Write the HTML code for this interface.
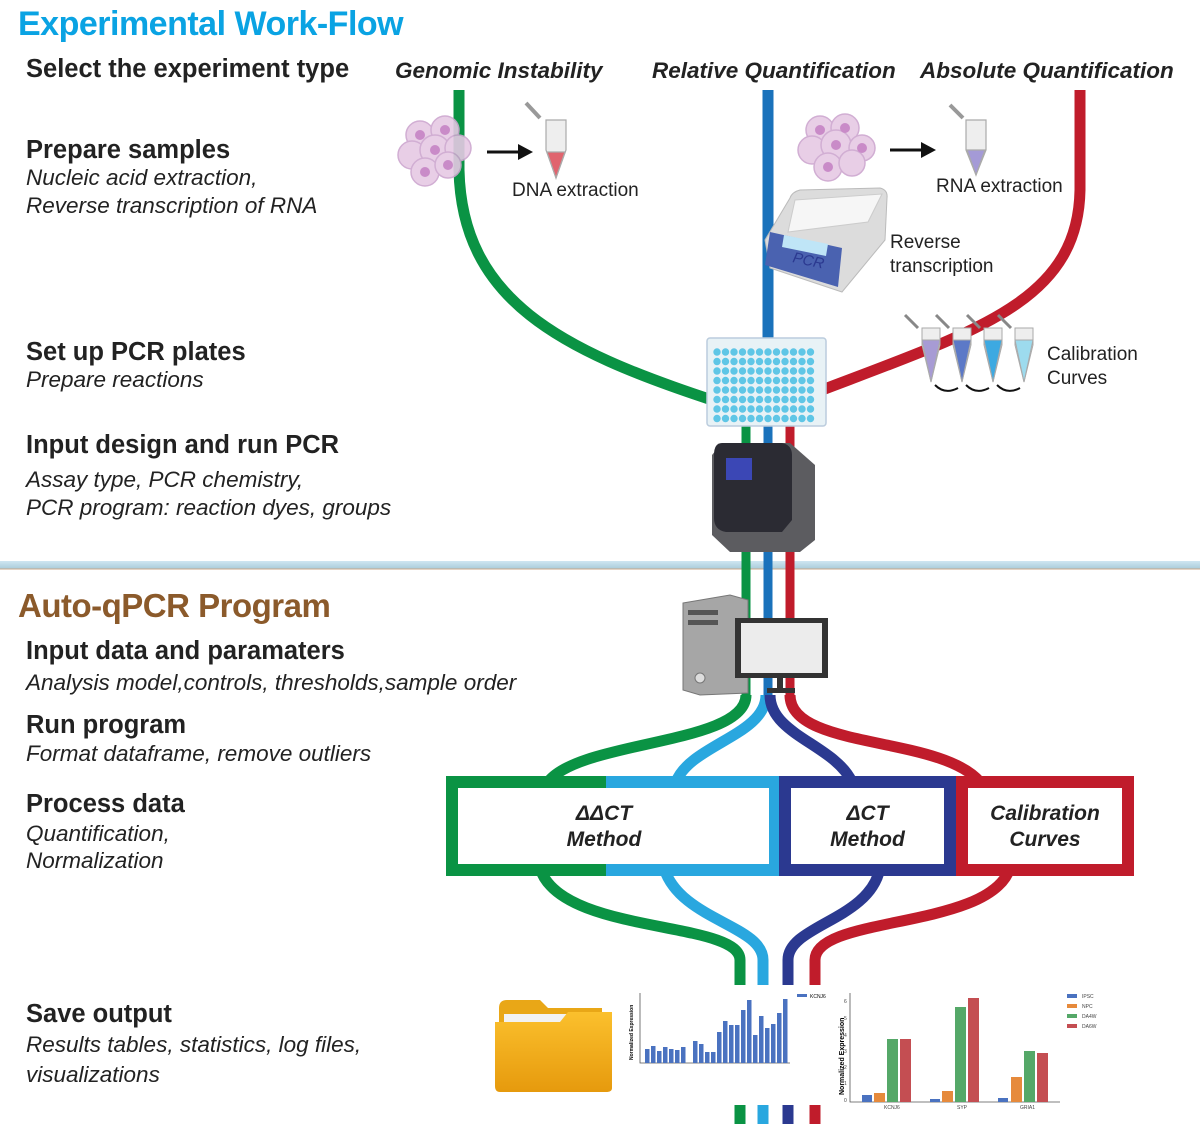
<!DOCTYPE html>
<html><head><meta charset="utf-8"><style>
html,body{margin:0;padding:0;background:#fff;}
body{width:1200px;height:1124px;position:relative;overflow:hidden;font-family:"Liberation Sans",Arial,sans-serif;color:#222;}
.t{position:absolute;white-space:nowrap;}
.h{font-weight:bold;font-size:25.5px;}
.s{font-style:italic;font-size:22.5px;line-height:28px;}
.e{font-style:italic;font-weight:bold;font-size:22.5px;}
svg{position:absolute;left:0;top:0;}
</style></head><body>
<svg width="1200" height="1124" viewBox="0 0 1200 1124">
<defs>
<linearGradient id="div" x1="0" y1="0" x2="0" y2="1"><stop offset="0" stop-color="#cfe6f1"/><stop offset="1" stop-color="#a9cbd9"/></linearGradient>
<linearGradient id="fold" x1="0" y1="0" x2="0" y2="1"><stop offset="0" stop-color="#fbc02d"/><stop offset="1" stop-color="#e69a0d"/></linearGradient>
</defs>
<rect x="0" y="561" width="1200" height="8" fill="url(#div)"/>
<rect x="0" y="568" width="1200" height="2" fill="#c9a88a" opacity="0.5"/>
<g fill="none" stroke-width="11" stroke-linecap="butt">
<path d="M459,90 L459,170 C462,300 560,350 712,400" stroke="#0a9344"/>
<path d="M768,90 L768,345" stroke="#1a72bb"/>
<path d="M1080,90 L1080,190 C1078,300 980,330 822,390" stroke="#c01c2b"/>
<path d="M746,420 L746,700" stroke="#0a9344" stroke-width="9"/>
<path d="M768,420 L768,700" stroke="#1a72bb" stroke-width="9"/>
<path d="M790,420 L790,700" stroke="#c01c2b" stroke-width="9"/>
<path d="M746,695 C746,745 580,740 548,782" stroke="#0a9344"/>
<path d="M766,695 C766,735 690,745 676,782" stroke="#29a7df"/>
<path d="M770,695 C770,735 835,745 852,782" stroke="#2b3990"/>
<path d="M790,695 C790,750 940,735 980,782" stroke="#c01c2b"/>
<path d="M540,868 C560,935 740,920 740,960 L740,985" stroke="#0a9344"/>
<path d="M664,868 C680,920 763,925 763,960 L763,985" stroke="#29a7df"/>
<path d="M880,868 C870,920 788,925 788,960 L788,985" stroke="#2b3990"/>
<path d="M1010,868 C990,930 815,915 815,960 L815,985" stroke="#c01c2b"/>
<path d="M740,1105 V1124" stroke="#0a9344"/><path d="M763,1105 V1124" stroke="#29a7df"/>
<path d="M788,1105 V1124" stroke="#2b3990"/><path d="M815,1105 V1124" stroke="#c01c2b"/>
</g>
<rect x="452" y="782" width="323" height="88" fill="#fff"/>
<path d="M612,782 H452 V870 H612" fill="none" stroke="#0a9344" stroke-width="12"/>
<path d="M606,782 H775 V870 H606" fill="none" stroke="#29a7df" stroke-width="12"/>
<rect x="785" y="782" width="165" height="88" fill="#fff" stroke="#2b3990" stroke-width="12"/>
<rect x="962" y="782" width="166" height="88" fill="#fff" stroke="#c01c2b" stroke-width="12"/>
<g fill="#e6c9e4" stroke="#cda6cf" stroke-width="1.5" opacity="0.9">
<circle cx="420" cy="135" r="14"/><circle cx="445" cy="130" r="14"/><circle cx="412" cy="155" r="14"/><circle cx="435" cy="150" r="15"/><circle cx="458" cy="148" r="13"/><circle cx="425" cy="172" r="14"/><circle cx="448" cy="165" r="13"/>
<circle cx="820" cy="130" r="14"/><circle cx="845" cy="128" r="14"/><circle cx="812" cy="150" r="14"/><circle cx="836" cy="145" r="15"/><circle cx="862" cy="148" r="13"/><circle cx="828" cy="167" r="14"/><circle cx="852" cy="163" r="13"/>
</g>
<g fill="#c98bc8"><circle cx="420" cy="135" r="5"/><circle cx="445" cy="130" r="5"/><circle cx="435" cy="150" r="5"/><circle cx="425" cy="172" r="5"/><circle cx="448" cy="165" r="5"/>
<circle cx="820" cy="130" r="5"/><circle cx="845" cy="128" r="5"/><circle cx="836" cy="145" r="5"/><circle cx="828" cy="167" r="5"/><circle cx="862" cy="148" r="5"/></g>
<path d="M487,152 H520" stroke="#111" stroke-width="3"/><path d="M518,144 L533,152 L518,160 Z" fill="#111"/>
<path d="M890,150 H923" stroke="#111" stroke-width="3"/><path d="M921,142 L936,150 L921,158 Z" fill="#111"/>
<g stroke="#aaa" stroke-width="1.2">
<path d="M546,120 H566 V150 L556,178 L546,150 Z" fill="#eee"/><path d="M547,152 H565 L556,178 Z" fill="#e0646e"/>
<path d="M526,103 L540,118" stroke="#999" stroke-width="4"/>
<path d="M966,120 H986 V150 L976,175 L966,150 Z" fill="#eee"/><path d="M967,150 H985 L976,175 Z" fill="#a49ad6"/>
<path d="M950,105 L963,118" stroke="#999" stroke-width="4"/>
</g>
<!-- RT machine -->
<path d="M790,198 Q792,192 800,190 L880,188 Q888,190 887,198 L885,240 L842,292 L770,268 L765,240 Z" fill="#dcdcdc" stroke="#bbb"/>
<path d="M795,200 L882,194 L868,222 L788,232 Z" fill="#f6f6f6" stroke="#ccc"/>
<path d="M770,232 L842,248 L838,287 L765,265 Z" fill="#4a62b0"/>
<path d="M784,235 L828,244 L826,256 L782,247 Z" fill="#bfe5f7"/>
<text x="792" y="262" font-size="15" font-style="italic" fill="#2b3990" transform="rotate(12 792 262)">PCR</text>
<rect x="707" y="338" width="119" height="88" rx="3" fill="#e8f2f6" stroke="#bcd" stroke-width="1.5"/>
<g fill="#5fc6e6" id="wells"></g>
<g stroke="#aaa" stroke-width="1">
<path d="M922,328 H940 V345 L931,382 L922,345 Z" fill="#eee"/><path d="M922,340 H940 L931,382 Z" fill="#a79bd4"/>
<path d="M953,328 H971 V345 L962,382 L953,345 Z" fill="#eee"/><path d="M953,340 H971 L962,382 Z" fill="#5c79c7"/>
<path d="M984,328 H1002 V345 L993,382 L984,345 Z" fill="#eee"/><path d="M984,340 H1002 L993,382 Z" fill="#3da9e1"/>
<path d="M1015,328 H1033 V345 L1024,382 L1015,345 Z" fill="#eee"/><path d="M1015,340 H1033 L1024,382 Z" fill="#9ddbee"/>
</g>
<g stroke="#888" stroke-width="3"><path d="M905,315 L918,328"/><path d="M936,315 L949,328"/><path d="M967,315 L980,328"/><path d="M998,315 L1011,328"/></g>
<g fill="none" stroke="#111" stroke-width="2"><path d="M935,385 Q945,395 958,388"/><path d="M966,385 Q976,395 989,388"/><path d="M997,385 Q1007,395 1020,388"/></g>
<path d="M722,443 H790 L815,465 V540 L800,552 H730 L712,535 V455 Z" fill="#5c5c60"/>
<path d="M722,443 H782 Q792,445 792,455 V520 L782,532 H726 Q714,530 714,518 V455 Q714,443 722,443 Z" fill="#2b2b33"/>
<rect x="726" y="458" width="26" height="22" fill="#3b47b5"/>
<path d="M683,603 L730,595 L748,600 V693 L700,695 L683,690 Z" fill="#a6a6a6" stroke="#777"/>
<rect x="688" y="610" width="30" height="5" fill="#555"/><rect x="688" y="620" width="30" height="5" fill="#555"/>
<circle cx="700" cy="678" r="5" fill="#ddd" stroke="#777"/>
<rect x="735" y="618" width="93" height="60" fill="#333"/>
<rect x="741" y="623" width="81" height="50" fill="#ececec"/>
<rect x="777" y="678" width="6" height="12" fill="#333"/><rect x="767" y="688" width="28" height="5" fill="#333"/>
<path d="M499,1008 Q499,1000 507,1000 H540 L548,1008 H602 V1080 H499 Z" fill="#e9a717"/>
<rect x="504" y="1014" width="90" height="10" fill="#f2f2f2"/>
<path d="M495,1022 H560 L568,1012 H612 V1088 Q612,1092 606,1092 H500 Q495,1092 495,1086 Z" fill="url(#fold)"/>
<path d="M640,993 V1063 H790" stroke="#555" fill="none" stroke-width="0.8"/>
<text x="633" y="1060" font-size="5" transform="rotate(-90 633 1060)" font-weight="bold">Normalized Expression</text>
<g fill="#4a72c0" id="b1"></g>
<rect x="797" y="994" width="10" height="3" fill="#4a72c0"/><text x="810" y="998" font-size="5">KCNJ6</text>
<path d="M850,993 V1102 H1060" stroke="#555" fill="none" stroke-width="0.8"/>
<text x="844" y="1095" font-size="7" font-weight="bold" transform="rotate(-90 844 1095)">Normalized Expression</text>
<g font-size="5" fill="#444"><text x="844" y="1003">6</text><text x="844" y="1020">5</text><text x="844" y="1037">4</text><text x="844" y="1053">3</text><text x="844" y="1069">2</text><text x="844" y="1085">1</text><text x="844" y="1102">0</text></g>
<g>
<rect x="862" y="1095" width="10" height="7" fill="#4a72c0"/><rect x="874" y="1093" width="11" height="9" fill="#e68a3c"/><rect x="887" y="1039" width="11" height="63" fill="#55a868"/><rect x="900" y="1039" width="11" height="63" fill="#c44e52"/>
<rect x="930" y="1099" width="10" height="3" fill="#4a72c0"/><rect x="942" y="1091" width="11" height="11" fill="#e68a3c"/><rect x="955" y="1007" width="11" height="95" fill="#55a868"/><rect x="968" y="998" width="11" height="104" fill="#c44e52"/>
<rect x="998" y="1098" width="10" height="4" fill="#4a72c0"/><rect x="1011" y="1077" width="11" height="25" fill="#e68a3c"/><rect x="1024" y="1051" width="11" height="51" fill="#55a868"/><rect x="1037" y="1053" width="11" height="49" fill="#c44e52"/>
</g>
<g font-size="5" fill="#444"><text x="884" y="1109">KCNJ6</text><text x="957" y="1109">SYP</text><text x="1020" y="1109">GRIA1</text></g>
<g font-size="5" fill="#444">
<rect x="1067" y="994" width="10" height="4" fill="#4a72c0"/><text x="1082" y="998">IPSC</text>
<rect x="1067" y="1004" width="10" height="4" fill="#e68a3c"/><text x="1082" y="1008">NPC</text>
<rect x="1067" y="1014" width="10" height="4" fill="#55a868"/><text x="1082" y="1018">DA4W</text>
<rect x="1067" y="1024" width="10" height="4" fill="#c44e52"/><text x="1082" y="1028">DA6W</text>
</g>
</svg>
<script>
var w=document.getElementById('wells'),s='';
for(var r=0;r<8;r++)for(var c=0;c<12;c++)s+='<circle cx="'+(717+c*8.5)+'" cy="'+(352+r*9.5)+'" r="3.7"/>';
w.innerHTML=s;
var h=[5,8,3,7,5,4,7,0,13,10,2,2,22,33,29,29,44,54,19,38,26,30,41,55];
var b='';
for(var i=0;i<h.length;i++){b+='<rect x="'+(645+i*6)+'" y="'+(1063-h[i]-9*(h[i]>0))+'" width="4.5" height="'+(h[i]+9*(h[i]>0))+'"/>';}
document.getElementById('b1').innerHTML=b;
</script>
<div class="t" style="left:18px;top:5px;font-size:34px;font-weight:bold;color:#0aa3e3;letter-spacing:-0.5px;">Experimental Work-Flow</div>
<div class="t h" style="left:26px;top:55px;">Select the experiment type</div>
<div class="t e" style="left:395px;top:58px;">Genomic Instability</div>
<div class="t e" style="left:652px;top:58px;">Relative Quantification</div>
<div class="t e" style="left:920px;top:58px;">Absolute Quantification</div>
<div class="t h" style="left:26px;top:136px;">Prepare samples</div>
<div class="t s" style="left:26px;top:164px;">Nucleic acid extraction,<br>Reverse transcription of RNA</div>
<div class="t" style="left:512px;top:180px;font-size:19px;">DNA extraction</div>
<div class="t" style="left:936px;top:176px;font-size:19px;">RNA extraction</div>
<div class="t" style="left:890px;top:231px;font-size:19px;line-height:24px;">Reverse<br>transcription</div>
<div class="t" style="left:1047px;top:343px;font-size:19px;line-height:24px;">Calibration<br>Curves</div>
<div class="t h" style="left:26px;top:338px;">Set up PCR plates</div>
<div class="t s" style="left:26px;top:366px;">Prepare reactions</div>
<div class="t h" style="left:26px;top:431px;">Input design and run PCR</div>
<div class="t s" style="left:26px;top:466px;">Assay type, PCR chemistry,<br>PCR program: reaction dyes, groups</div>
<div class="t" style="left:18px;top:587px;font-size:33px;font-weight:bold;color:#8b5a2b;letter-spacing:-0.5px;">Auto-qPCR Program</div>
<div class="t h" style="left:26px;top:637px;">Input data and paramaters</div>
<div class="t s" style="left:26px;top:669px;">Analysis model,controls, thresholds,sample order</div>
<div class="t h" style="left:26px;top:711px;">Run program</div>
<div class="t s" style="left:26px;top:740px;">Format dataframe, remove outliers</div>
<div class="t h" style="left:26px;top:790px;">Process data</div>
<div class="t s" style="left:26px;top:820px;line-height:27px;">Quantification,<br>Normalization</div>
<div class="t h" style="left:26px;top:1000px;">Save output</div>
<div class="t s" style="left:26px;top:1030px;line-height:30px;">Results tables, statistics, log files,<br>visualizations</div>
<div class="t e" style="left:452px;top:801px;width:304px;text-align:center;line-height:26px;font-size:21px;">ΔΔCT<br>Method</div>
<div class="t e" style="left:785px;top:801px;width:165px;text-align:center;line-height:26px;font-size:21px;">ΔCT<br>Method</div>
<div class="t e" style="left:962px;top:801px;width:166px;text-align:center;line-height:26px;font-size:21px;">Calibration<br>Curves</div>
</body></html>
